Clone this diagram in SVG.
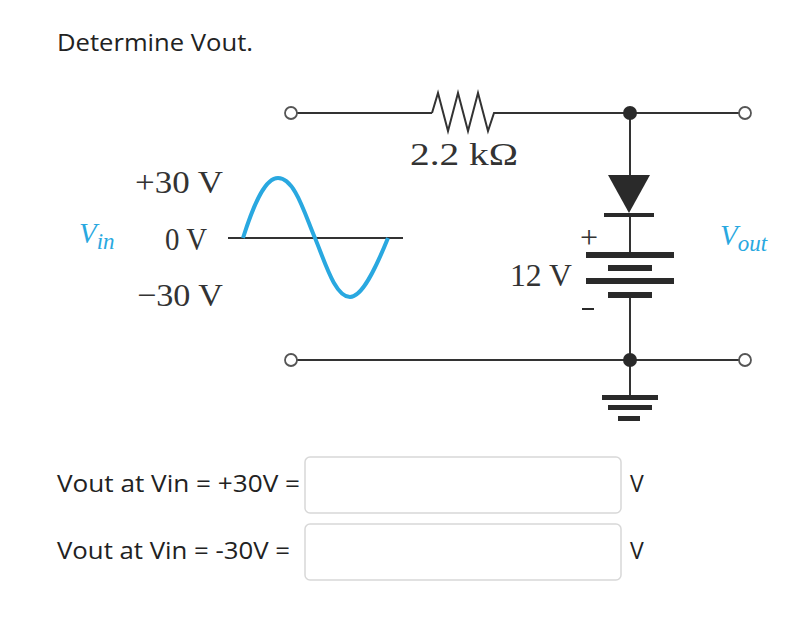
<svg xmlns="http://www.w3.org/2000/svg" width="808" height="621" viewBox="0 0 808 621">
<style>
.w{stroke:#333;stroke-width:2;fill:none}
.t{font-family:"Liberation Serif",serif;font-size:32px;fill:#333}
.b{fill:#2a2a2a}
.q{font-family:"Open Sans",sans-serif;font-size:23px;fill:#222}
.vi{font-family:"Liberation Serif",serif;font-style:italic;fill:#29a8e0}
.box{fill:#fff;stroke:#d8d8d8;stroke-width:1.5}
.term{fill:#fff;stroke:#555;stroke-width:1.8}
</style>
<rect width="808" height="621" fill="#fff"/>
<text x="57" y="51" class="q" font-size="23" textLength="196" lengthAdjust="spacingAndGlyphs">Determine Vout.</text>
<g id="connectors">
<path class="w" d="M297 113H432M498 113H739M630 113V175M630 215V255M630 295V397M297 360H739"/>
</g>
<g id="resistor">
<path class="w" stroke-width="2.5" d="M432 113L438 93L448 131L458 93L468 131L478 93L488 131L494 113H498"/>
<text x="410" y="165" class="t" textLength="108" lengthAdjust="spacingAndGlyphs">2.2 kΩ</text>
</g>
<g id="diode">
<path class="b" d="M608 175H650L629 213Z"/>
<rect class="b" x="604" y="213" width="50" height="4"/>
</g>
<g id="battery">
<rect class="b" x="586" y="252" width="88" height="6"/>
<rect class="b" x="608" y="265" width="44" height="6"/>
<rect class="b" x="586" y="278" width="88" height="6"/>
<rect class="b" x="608" y="292" width="44" height="6"/>
<text x="589" y="248" class="t" font-size="24" text-anchor="middle">+</text>
<rect class="b" x="582" y="308" width="12" height="2"/>
<text x="510" y="286" class="t" textLength="62" lengthAdjust="spacingAndGlyphs">12 V</text>
</g>
<g id="nodes">
<circle class="b" cx="630" cy="113" r="7"/>
<circle class="b" cx="630" cy="360" r="7"/>
<circle class="term" cx="291" cy="113" r="6"/>
<circle class="term" cx="291" cy="360" r="6"/>
<circle class="term" cx="745" cy="113" r="6"/>
<circle class="term" cx="745" cy="360" r="6"/>
</g>
<g id="ground">
<rect class="b" x="602" y="395" width="56" height="5"/>
<rect class="b" x="608" y="405" width="44" height="5"/>
<rect class="b" x="618" y="416" width="22" height="5"/>
</g>
<g id="source">
<path class="w" d="M228 238H403"/>
<path d="M243 238C255 200 266 178 278 178C295 178 305 215 315 238C325 262 335 297 350 297C362 297 375 270 388 238" fill="none" stroke="#29a8e0" stroke-width="4"/>
<text x="135" y="193" class="t" textLength="88" lengthAdjust="spacingAndGlyphs">+30 V</text>
<text x="165" y="250" class="t" textLength="42" lengthAdjust="spacingAndGlyphs">0 V</text>
<text x="137" y="306" class="t" textLength="86" lengthAdjust="spacingAndGlyphs">−30 V</text>
<text x="79" y="243" class="vi" font-size="29">V<tspan font-size="23" dy="6">in</tspan></text>
<text x="720" y="245" class="vi" font-size="29">V<tspan font-size="23" dy="6">out</tspan></text>
</g>
<g id="form">
<text x="57" y="492" class="q" textLength="243" lengthAdjust="spacingAndGlyphs">Vout at Vin = +30V =</text>
<rect class="box" x="305" y="457" width="316" height="56" rx="5"/>
<text x="630" y="492" class="q">V</text>
<text x="57" y="559" class="q" textLength="233" lengthAdjust="spacingAndGlyphs">Vout at Vin = -30V =</text>
<rect class="box" x="305" y="524" width="316" height="56" rx="5"/>
<text x="630" y="559" class="q">V</text>
</g>
</svg>
